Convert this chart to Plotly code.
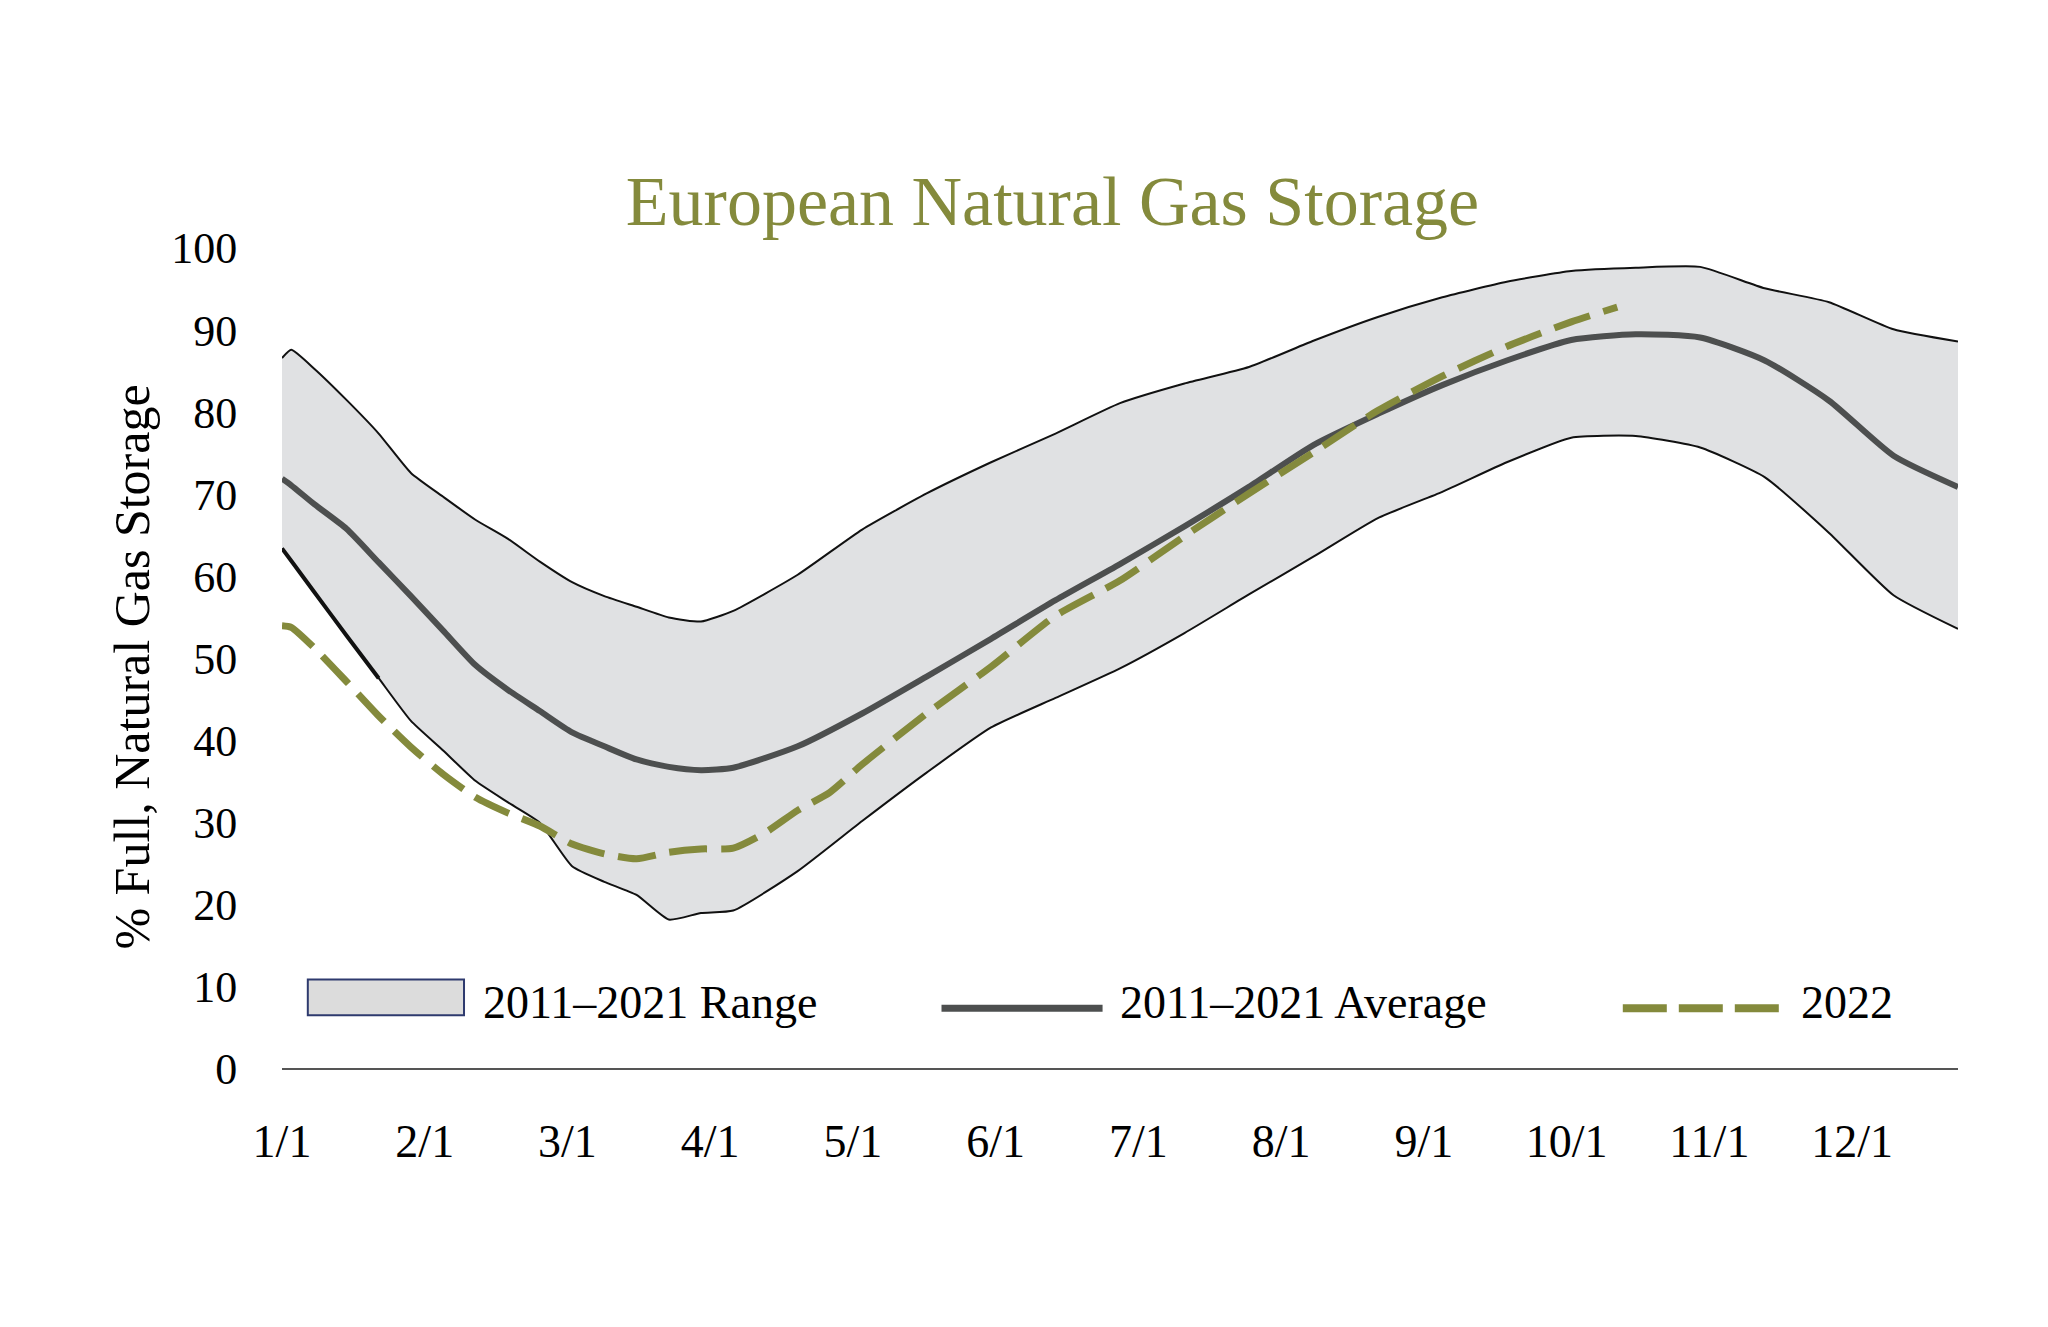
import plotly.graph_objects as go

# day of year (0 = Jan 1) for the 2011-2021 range and average
days = [0, 2, 7, 14, 21, 28, 35, 42, 49, 56, 63, 70, 77, 84, 91, 98, 112, 126,
        140, 154, 168, 182, 196, 210, 224, 238, 252, 266, 280, 294, 308, 322,
        336, 350, 364]

range_high = [86.6, 87.6, 85.3, 81.5, 77.4, 72.6, 69.7, 66.9, 64.6, 61.8, 59.3,
              57.6, 56.3, 55.0, 54.5, 55.8, 60.2, 65.7, 70.1, 73.9, 77.4, 81.1,
              83.5, 85.5, 88.7, 91.6, 94.0, 95.9, 97.2, 97.6, 97.7, 95.1, 93.4,
              90.1, 88.6]

range_low = [63.4, 61.9, 58.1, 52.8, 47.6, 42.4, 38.8, 35.1, 32.5, 30.0, 24.7,
             22.8, 21.2, 18.2, 19.0, 19.3, 24.1, 30.2, 36.1, 41.6, 45.2, 48.8,
             53.1, 57.8, 62.4, 67.1, 70.3, 73.9, 76.9, 77.1, 75.7, 72.1, 65.3,
             57.7, 53.6]

average = [71.9, 71.1, 68.8, 65.8, 61.7, 57.6, 53.4, 49.2, 46.2, 43.6, 41.0,
           39.3, 37.7, 36.8, 36.4, 36.7, 39.3, 43.3, 47.8, 52.4, 57.1, 61.5,
           66.1, 70.9, 76.0, 79.8, 83.3, 86.3, 88.8, 89.5, 89.1, 86.3, 81.4,
           74.7, 70.9]

# 2022 storage so far
days_2022 = [0, 2, 7, 14, 21, 28, 35, 42, 49, 56, 63, 70, 77, 84, 91, 98, 105,
             112, 119, 126, 140, 154, 168, 182, 196, 210, 224, 238, 252, 266,
             280, 290]
storage_2022 = [54.0, 53.8, 51.3, 47.2, 43.0, 39.2, 35.9, 33.1, 31.2, 29.6, 27.4,
                26.2, 25.6, 26.4, 26.8, 26.9, 28.8, 31.5, 33.7, 37.1, 43.3, 49.0,
                55.2, 59.5, 64.9, 70.1, 75.1, 80.2, 84.4, 88.0, 91.0, 92.8]

month_labels = ['1/1', '2/1', '3/1', '4/1', '5/1', '6/1', '7/1', '8/1', '9/1',
                '10/1', '11/1', '12/1']
month_ticks = [0, 31, 62, 93, 124, 155, 186, 217, 248, 279, 310, 341]

FONT = 'Liberation Serif'
OLIVE = '#848a3c'
DARK = '#4d4f4f'
BAND = '#e0e1e3'

fig = go.Figure()

# range band
fig.add_trace(go.Scatter(
    x=days, y=range_low, mode='lines',
    line=dict(color='#111111', width=2, shape='spline', smoothing=0.5),
    showlegend=False, hoverinfo='skip'
))
fig.add_trace(go.Scatter(
    x=days, y=range_high, mode='lines', fill='tonexty', fillcolor=BAND,
    line=dict(color='#111111', width=2, shape='spline', smoothing=0.5),
    showlegend=False, hoverinfo='skip'
))
# the lower edge is drawn heavier over the first weeks in the original
fig.add_trace(go.Scatter(
    x=days[:5], y=range_low[:5], mode='lines',
    line=dict(color='#111111', width=4, shape='spline', smoothing=0.5),
    showlegend=False, hoverinfo='skip'
))

# average
fig.add_trace(go.Scatter(
    x=days, y=average, mode='lines',
    line=dict(color=DARK, width=6, shape='spline', smoothing=0.6),
    showlegend=False
))

# 2022
fig.add_trace(go.Scatter(
    x=days_2022, y=storage_2022, mode='lines',
    line=dict(color=OLIVE, width=7, dash='38px,14px', shape='spline', smoothing=0.6),
    showlegend=False
))

# hand-drawn legend (paper coords) to get the long swatches
fig.add_shape(type='rect', xref='paper', yref='paper',
              x0=0.0154, x1=0.1086, y0=0.0655, y1=0.109,
              fillcolor='#dcdcdc', line=dict(color='#2e3a6e', width=2))
fig.add_shape(type='line', xref='paper', yref='paper',
              x0=0.3935, x1=0.4896, y0=0.074, y1=0.074,
              line=dict(color=DARK, width=7))
fig.add_shape(type='line', xref='paper', yref='paper',
              x0=0.800, x1=0.894, y0=0.074, y1=0.074,
              line=dict(color=OLIVE, width=8, dash='44px,12px'))

legend_text = [('2011-2021 Range', 0.1187), ('2011-2021 Average', 0.499), ('2022', 0.905)]
for txt, xpos in legend_text:
    fig.add_annotation(x=xpos, y=0.081, xref='paper', yref='paper',
                       text=txt.replace('-', '\u2013'), showarrow=False,
                       xanchor='left', yanchor='middle',
                       font=dict(family=FONT, size=46, color='black'))

# y-axis title
fig.add_annotation(x=-0.0896, y=0.49, xref='paper', yref='paper',
                   text='% Full, Natural Gas Storage', textangle=-90,
                   showarrow=False, xanchor='center', yanchor='middle',
                   font=dict(family=FONT, size=50, color='black'))

# page body has an 8px default margin, so margins are shifted by 8px
fig.update_layout(
    width=2048, height=1327,
    title=dict(text='European Natural Gas Storage', x=0.51, xanchor='center',
               y=1 - 192 / 1327, yanchor='middle', yref='container',
               font=dict(family=FONT, size=70, color=OLIVE)),
    margin=dict(l=274, r=98, t=240, b=266),
    plot_bgcolor='white', paper_bgcolor='white',
    showlegend=False,
    xaxis=dict(range=[0, 364], tickvals=month_ticks, ticktext=month_labels,
               showgrid=False, zeroline=False, showline=False,
               ticks='outside', ticklen=32, tickcolor='rgba(0,0,0,0)',
               tickfont=dict(family=FONT, size=46, color='black')),
    yaxis=dict(range=[0, 100], tickvals=list(range(0, 101, 10)),
               showgrid=False, zeroline=True, zerolinecolor='#555555',
               zerolinewidth=2, showline=False,
               ticks='outside', ticklen=35, tickcolor='rgba(0,0,0,0)',
               tickfont=dict(family=FONT, size=44, color='black')),
)

fig.write_html('out.html')
